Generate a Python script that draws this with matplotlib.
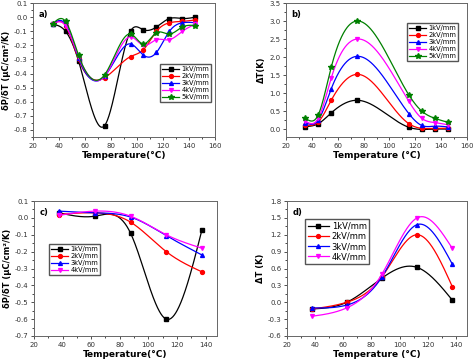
import numpy as np
import matplotlib
matplotlib.use("Agg")
import matplotlib.pyplot as plt
from matplotlib.ticker import MultipleLocator, AutoMinorLocator

plt.rcParams['font.family'] = ['DejaVu Sans']

labels5 = ["1kV/mm", "2kV/mm", "3kV/mm", "4kV/mm", "5kV/mm"]
colors = ["black", "red", "blue", "magenta", "green"]
markers = ["s", "o", "^", "v", "*"]

# Panel a
xa = [35, 45, 55, 75, 95, 105, 115, 125, 135, 145]
ya = [
    [-0.05, -0.10, -0.31, -0.77, -0.10, -0.09, -0.07, -0.01, -0.01, 0.00],
    [-0.05, -0.06, -0.30, -0.43, -0.28, -0.23, -0.10, -0.04, -0.03, -0.02],
    [-0.05, -0.05, -0.29, -0.42, -0.19, -0.27, -0.25, -0.10, -0.04, -0.04],
    [-0.05, -0.06, -0.28, -0.42, -0.14, -0.20, -0.16, -0.16, -0.10, -0.05],
    [-0.05, -0.03, -0.27, -0.41, -0.12, -0.19, -0.11, -0.12, -0.07, -0.06],
]
# Panel b
xb = [35, 45, 55, 75, 115, 125, 135, 145]
yb = [
    [0.07, 0.15, 0.45, 0.80, 0.05, -0.01, 0.00, 0.00],
    [0.12, 0.20, 0.80, 1.52, 0.15, 0.02, 0.02, 0.02],
    [0.18, 0.25, 1.12, 2.02, 0.43, 0.10, 0.08, 0.06],
    [0.22, 0.30, 1.42, 2.50, 0.77, 0.30, 0.18, 0.12],
    [0.30, 0.40, 1.72, 3.00, 0.95, 0.50, 0.30, 0.19],
]
# Panel c
xc = [37.5, 62.5, 87.5, 112.5, 137.5]
yc = [
    [0.03, 0.01, -0.09, -0.60, -0.07],
    [0.02, 0.03, -0.025, -0.20, -0.32],
    [0.04, 0.03, 0.005, -0.105, -0.22],
    [0.015, 0.04, 0.01, -0.10, -0.18],
]
# Panel d
xd = [37.5, 62.5, 87.5, 112.5, 137.5]
yd = [
    [-0.12, 0.00, 0.43, 0.62, 0.04],
    [-0.12, 0.00, 0.45, 1.20, 0.28],
    [-0.10, -0.05, 0.45, 1.38, 0.68],
    [-0.25, -0.10, 0.50, 1.50, 0.96],
]


def spline(x, y, n=300):
    x = np.asarray(x, float)
    y = np.asarray(y, float)
    m = len(x)
    h = np.diff(x)
    A = np.zeros((m, m))
    r = np.zeros(m)
    A[0, 0] = 1
    A[-1, -1] = 1
    for i in range(1, m - 1):
        A[i, i - 1] = h[i - 1]
        A[i, i] = 2 * (h[i - 1] + h[i])
        A[i, i + 1] = h[i]
        r[i] = 6 * ((y[i + 1] - y[i]) / h[i] - (y[i] - y[i - 1]) / h[i - 1])
    M = np.linalg.solve(A, r)
    xs = np.linspace(x[0], x[-1], n)
    idx = np.clip(np.searchsorted(x, xs) - 1, 0, m - 2)
    x0, x1 = x[idx], x[idx + 1]
    hh = x1 - x0
    t0 = x1 - xs
    t1 = xs - x0
    ys = (M[idx] * t0 ** 3 + M[idx + 1] * t1 ** 3) / (6 * hh) \
        + (y[idx] / hh - M[idx] * hh / 6) * t0 \
        + (y[idx + 1] / hh - M[idx + 1] * hh / 6) * t1
    return xs, ys


W, H = 474, 363
fig = plt.figure(figsize=(W / 100, H / 100), dpi=100)


def mkax(l, t, r, b):
    return fig.add_axes([l / W, 1 - b / H, (r - l) / W, (b - t) / H])


def style(ax, xlim, ylim, xmaj, ymaj, xlabel, ylabel, tag, yfmt, ylfs):
    ax.set_xlim(*xlim)
    ax.set_ylim(*ylim)
    ax.xaxis.set_major_locator(MultipleLocator(xmaj))
    ax.yaxis.set_major_locator(MultipleLocator(ymaj))
    ax.xaxis.set_minor_locator(AutoMinorLocator(2))
    ax.yaxis.set_minor_locator(AutoMinorLocator(2))
    ax.yaxis.set_major_formatter(matplotlib.ticker.FuncFormatter(lambda v, p: yfmt.format(v + 0.0)))
    ax.tick_params(which='major', direction='out', length=2.5, width=0.6, labelsize=5, pad=1.5, colors='#333333')
    ax.tick_params(which='minor', direction='out', length=1.5, width=0.5)
    for s in ax.spines.values():
        s.set_linewidth(0.7)
        s.set_color('#666666')
    ax.set_xlabel(xlabel, fontsize=6.5, fontweight='bold', labelpad=2)
    ax.set_ylabel(ylabel, fontsize=ylfs, fontweight='bold', labelpad=2)
    ax.text(0.03, 0.95, tag, transform=ax.transAxes, fontsize=6, fontweight='bold', va='top')


def draw(ax, x, ys, n):
    for i in range(n):
        xs, yy = spline(x, ys[i])
        ax.plot(xs, yy, color=colors[i], lw=0.9)
        ax.plot(x, ys[i], ls='none', marker=markers[i], color=colors[i], ms=2.8 if markers[i] != '*' else 3.8)
        ax.plot([], [], color=colors[i], marker=markers[i], ms=2.8 if markers[i] != '*' else 3.8, lw=0.9, label=labels5[i])


LT = {}


def legend(ax, l, t, fs):
    ax.legend(loc='upper left', bbox_to_anchor=((l - LT[ax][0]) / LT[ax][2], 1 - (t - LT[ax][1]) / LT[ax][3]),
              fontsize=fs, frameon=True, fancybox=False, edgecolor='#555555', handlelength=2.6,
              handletextpad=0.3, borderpad=0.3, labelspacing=0.15, borderaxespad=0, framealpha=1)


axa = mkax(33, 3, 215, 137); LT[axa] = (33, 3, 182, 134)
axb = mkax(286, 3, 467, 137); LT[axb] = (286, 3, 181, 134)
axc = mkax(34, 201, 217, 336); LT[axc] = (34, 201, 183, 135)
axd = mkax(287, 201, 467, 336); LT[axd] = (287, 201, 180, 135)

draw(axa, xa, ya, 5)
style(axa, (20, 160), (-0.85, 0.1), 20, 0.1, 'Temperature(°C)', 'δP/δT (μC/cm²/K)', 'a)', '{:.1f}', 6)
legend(axa, 160, 64, 4.8)

draw(axb, xb, yb, 5)
style(axb, (20, 160), (-0.22, 3.5), 20, 0.5, 'Temperature (°C)', 'ΔT(K)', 'b)', '{:.1f}', 6)
legend(axb, 407, 23, 4.8)

draw(axc, xc, yc, 4)
style(axc, (20, 148), (-0.7, 0.1), 20, 0.1, 'Temperature(°C)', 'δP/δT (μC/cm²/K)', 'c)', '{:.1f}', 6)
legend(axc, 49, 244, 4.8)

draw(axd, xd, yd, 4)
style(axd, (20, 148), (-0.6, 1.8), 20, 0.3, 'Temperature (°C)', 'ΔT (K)', 'd)', '{:.1f}', 6)
legend(axd, 305, 219, 6)

fig.savefig('out.png', dpi=100)
